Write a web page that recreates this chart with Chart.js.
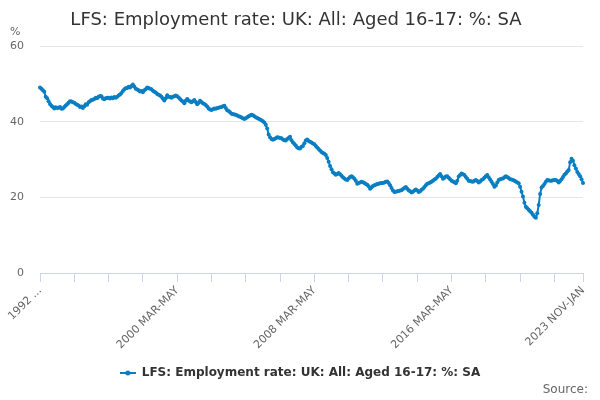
<!DOCTYPE html>
<html>
<head>
<meta charset="utf-8">
<script src="https://cdn.jsdelivr.net/npm/chart.js@4.4.0/dist/chart.umd.min.js"></script>
<style>
  html, body { margin: 0; padding: 0; background: #fff; }
</style>
</head>
<body>
<canvas id="lfsChart" width="600" height="400"></canvas>
<script>
const chartTitle = "LFS: Employment rate: UK: All: Aged 16-17: %: SA";
const seriesName = "LFS: Employment rate: UK: All: Aged 16-17: %: SA";
const monthNames = ["JAN", "FEB", "MAR", "APR", "MAY", "JUN", "JUL", "AUG", "SEP", "OCT", "NOV", "DEC"];
const firstYear = 1992;
const firstMonth = 2; // MAR-MAY

// rolling 3-month rate, one value per month, 1992 MAR-MAY .. 2023 NOV-JAN
const rates = [
  49.0, 48.7, 48.3, 47.9, 46.6, 46.2, 45.4, 44.7, 44.2, 43.9, 43.5, 43.8,
  43.6, 43.7, 43.9, 43.4, 43.5, 43.9, 44.3, 44.6, 45.0, 45.4, 45.3, 45.1,
  45.0, 44.7, 44.5, 44.3, 43.9, 44.0, 43.6, 44.1, 44.6, 44.5, 45.1, 45.4,
  45.7, 45.8, 46.0, 46.3, 46.2, 46.6, 46.8, 46.7, 46.1, 45.9, 46.2, 46.3,
  46.3, 46.1, 46.4, 46.2, 46.5, 46.3, 46.6, 46.9, 47.2, 47.6, 48.1, 48.6,
  48.8, 48.9, 49.2, 49.0, 49.4, 49.8, 49.3, 48.7, 48.5, 48.3, 48.0, 48.1,
  47.8, 48.3, 48.6, 49.0, 48.9, 48.7, 48.6, 48.2, 47.9, 47.7, 47.3, 47.1,
  46.9, 46.6, 46.1, 45.6, 46.2, 47.0, 46.6, 46.5, 46.3, 46.6, 46.7, 46.9,
  46.7, 46.4, 46.0, 45.6, 45.3, 44.9, 45.5, 46.0, 45.6, 45.3, 45.1, 45.4,
  45.7, 45.2, 44.6, 45.0, 45.5, 45.2, 44.9, 44.7, 44.4, 44.0, 43.5, 43.2,
  43.1, 43.3, 43.5, 43.4, 43.6, 43.7, 43.8, 43.9, 44.1, 44.2, 43.6, 43.0,
  42.8, 42.5, 42.1, 42.0, 41.9, 41.8, 41.6, 41.4, 41.3, 41.1, 40.9, 40.7,
  40.9, 41.2, 41.4, 41.6, 41.8, 41.7, 41.4, 41.2, 41.0, 40.8, 40.6, 40.4,
  40.1, 39.8, 39.2, 38.2, 36.6, 35.9, 35.4, 35.2, 35.4, 35.6, 35.9, 35.8,
  35.7, 35.6, 35.3, 35.1, 35.0, 35.4, 35.7, 36.0, 35.1, 34.5, 34.1, 33.7,
  33.2, 33.0, 32.9, 33.4, 33.6, 34.3, 35.0, 35.3, 34.9, 34.7, 34.5, 34.2,
  34.0, 33.6, 33.2, 32.8, 32.4, 32.0, 31.7, 31.5, 31.2, 30.4, 29.4, 28.3,
  27.4, 26.6, 26.3, 26.0, 26.2, 26.4, 26.1, 25.7, 25.3, 25.0, 24.7, 24.6,
  25.0, 25.4, 25.6, 25.3, 24.9, 24.4, 23.6, 23.8, 23.9, 24.1, 24.0, 23.8,
  23.5, 23.3, 22.9, 22.3, 22.6, 23.0, 23.2, 23.3, 23.5, 23.6, 23.7, 23.8,
  23.8, 23.9, 24.1, 24.2, 23.8, 23.2, 22.5, 21.8, 21.4, 21.5, 21.6, 21.7,
  21.8, 21.9, 22.2, 22.5, 22.7, 22.3, 21.9, 21.6, 21.3, 21.5, 21.8, 22.1,
  21.8, 21.4, 21.6, 22.0, 22.3, 22.7, 23.2, 23.6, 23.7, 23.9, 24.1, 24.4,
  24.7, 24.9, 25.4, 25.8, 26.2, 25.6, 24.9, 25.2, 25.5, 25.6, 25.2, 24.8,
  24.4, 24.2, 24.0, 23.7, 24.4, 25.5, 25.9, 26.3, 26.1, 25.9, 25.4, 24.9,
  24.4, 24.3, 24.2, 24.1, 24.4, 24.6, 24.3, 23.9, 24.2, 24.6, 24.8, 25.2,
  25.6, 25.9, 25.3, 24.7, 24.1, 23.5, 22.8, 23.1, 23.9, 24.6, 24.8, 24.9,
  25.0, 25.3, 25.6, 25.4, 25.1, 24.8, 24.7, 24.6, 24.4, 24.2, 23.9, 23.7,
  22.8, 21.5, 20.2, 18.6, 17.5, 17.1, 16.7, 16.3, 15.9, 15.4, 14.9, 14.6,
  15.8, 18.0, 20.9, 22.6, 23.0, 23.5, 24.1, 24.6, 24.5, 24.4, 24.4, 24.5,
  24.6, 24.6, 24.3, 23.9, 24.3, 24.8, 25.4, 26.0, 26.3, 26.8, 27.2, 29.3,
  30.2, 29.7, 28.5, 27.6, 26.7, 26.2, 25.6, 24.8, 23.8
];

const labelTicks = [0, 96, 192, 288, 380];
const tickText = ["1992 ...", "2000 MAR-MAY", "2008 MAR-MAY", "2016 MAR-MAY", "2023 NOV-JAN"];
const yMin = 0, yMax = 60, yStep = 20;

// category labels like "2000 MAR-MAY"
const periods = rates.map((_, i) => {
  const m = firstMonth + i;
  const mm = m % 12;
  return (firstYear + Math.floor(m / 12)) + " " + monthNames[mm] + "-" + monthNames[(mm + 2) % 12];
});

// tick marks every two years plus the last period
const tickMarks = [];
for (let i = 0; i < rates.length; i += 24) tickMarks.push(i);
tickMarks.push(rates.length - 1);

const lineColor = "#0a7ec2";
const fontFamily = '"DejaVu Sans", "Liberation Sans", sans-serif';

// legend symbol: short line with a dot
const legendIcon = document.createElement("canvas");
legendIcon.width = 16;
legendIcon.height = 8;
(() => {
  const c = legendIcon.getContext("2d");
  c.strokeStyle = lineColor;
  c.lineWidth = 2;
  c.beginPath();
  c.moveTo(0, 4);
  c.lineTo(16, 4);
  c.stroke();
  c.fillStyle = lineColor;
  c.beginPath();
  c.arc(8, 4, 2.5, 0, Math.PI * 2);
  c.fill();
})();

const extraText = {
  id: "extraText",
  afterLayout(chart) {
    // centre the legend on the full canvas width, not the padded area
    chart.legend.left = 0;
    chart.legend.right = 600;
  },
  afterDraw(chart) {
    const ctx = chart.ctx;
    ctx.save();
    ctx.fillStyle = "#333";
    ctx.font = "18px " + fontFamily;
    ctx.textAlign = "center";
    ctx.textBaseline = "alphabetic";
    ctx.fillText(chartTitle, 296, 25);
    ctx.fillStyle = "#666";
    ctx.font = "11px " + fontFamily;
    ctx.textAlign = "left";
    ctx.fillText("%", 10, 35);
    ctx.font = "12px " + fontFamily;
    ctx.textAlign = "right";
    ctx.fillText("Source:", 588, 393);
    ctx.restore();
  }
};

new Chart(document.getElementById("lfsChart"), {
  type: "line",
  data: {
    labels: periods,
    datasets: [{
      label: seriesName,
      data: rates,
      borderColor: lineColor,
      backgroundColor: lineColor,
      borderWidth: 2,
      pointRadius: 2,
      pointBorderWidth: 0,
      pointBackgroundColor: lineColor,
      tension: 0
    }]
  },
  options: {
    responsive: false,
    animation: false,
    layout: { padding: { left: 0, right: 17, top: 46, bottom: 11 } },
    plugins: {
      title: { display: false },
      tooltip: { enabled: false },
      legend: {
        position: "bottom",
        labels: {
          usePointStyle: true,
          pointStyle: legendIcon,
          pointStyleWidth: 16,
          color: "#333",
          padding: 10,
          font: { family: fontFamily, size: 12, weight: "bold" }
        }
      }
    },
    scales: {
      x: {
        type: "category",
        offset: false,
        grid: { drawOnChartArea: false, drawTicks: true, tickLength: 9, color: "#ccd6eb" },
        border: { color: "#ccd6eb" },
        afterBuildTicks: axis => { axis.ticks = tickMarks.map(v => ({ value: v })); },
        afterFit: axis => { axis.height = 84; },
        ticks: {
          autoSkip: false,
          minRotation: 45,
          maxRotation: 45,
          padding: 2,
          color: "#666",
          font: { family: fontFamily, size: 11 },
          callback: v => {
            const k = labelTicks.indexOf(v);
            return k < 0 ? "" : tickText[k];
          }
        }
      },
      y: {
        min: yMin,
        max: yMax,
        grid: { color: "#e6e6e6", drawTicks: false },
        border: { display: false },
        afterFit: axis => { axis.width = 40; },
        ticks: {
          stepSize: yStep,
          padding: 16,
          color: "#666",
          font: { family: fontFamily, size: 11 }
        }
      }
    }
  },
  plugins: [extraText]
});
</script>
</body>
</html>
